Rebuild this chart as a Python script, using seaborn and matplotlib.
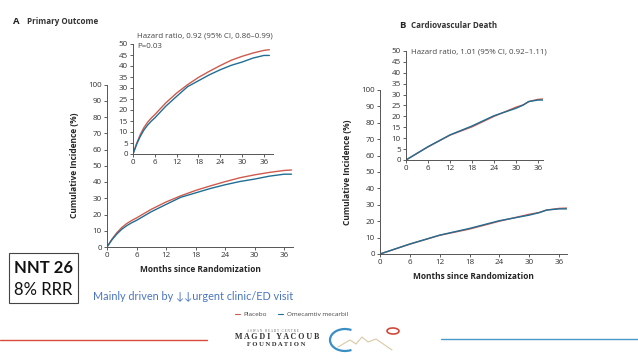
import numpy as np
import pandas as pd
import matplotlib.pyplot as plt
from matplotlib.patches import Rectangle, Arc, Ellipse
import seaborn as sns

# months since randomization
months_a = [0, 1, 2, 3, 4, 5, 6, 9, 12, 15, 18, 21, 24, 27, 30, 33, 36, 37.5]
placebo_a = [0, 4.8, 8.8, 12.0, 14.4, 16.3, 17.9, 23.2, 27.7, 31.5, 34.8, 37.6, 40.2, 42.6, 44.4, 45.9, 47.1, 47.4]
omecamtiv_a = [0, 4.4, 8.0, 10.9, 13.1, 14.9, 16.4, 21.7, 26.2, 30.6, 33.3, 36.0, 38.3, 40.3, 41.8, 43.6, 44.8, 44.8]

months_b = [0, 6, 12, 18, 24, 30, 32, 33.5, 36, 37.5]
placebo_b = [0, 6.0, 11.4, 15.2, 20.0, 24.2, 25.3, 26.8, 27.8, 28.0]
omecamtiv_b = [0, 6.1, 11.5, 15.6, 20.3, 23.7, 25.2, 26.8, 27.5, 27.5]

groups = ["Placebo", "Omecamtiv mecarbil"]
colors = {"Placebo": "#cf5a4c", "Omecamtiv mecarbil": "#1f6e94"}
month_ticks = [0, 6, 12, 18, 24, 30, 36]

W, H = 638, 359


def long_df(months, placebo, omecamtiv):
    return pd.concat([
        pd.DataFrame({"month": months, "inc": placebo, "group": groups[0]}),
        pd.DataFrame({"month": months, "inc": omecamtiv, "group": groups[1]}),
    ])


def px_axes(fig, x0, x1, y_bottom, y_top):
    return fig.add_axes([x0 / W, 1 - y_bottom / H, (x1 - x0) / W, (y_bottom - y_top) / H])


def style_axes(ax, xmax, ymax, ystep, fs=5.8):
    ax.set_xlim(0, xmax)
    ax.set_ylim(0, ymax)
    ax.set_xticks(month_ticks)
    ax.set_yticks(np.arange(0, ymax + 1, ystep))
    for s in ["top", "right"]:
        ax.spines[s].set_visible(False)
    for s in ["left", "bottom"]:
        ax.spines[s].set_color("#555555")
        ax.spines[s].set_linewidth(0.7)
    ax.tick_params(length=2.5, width=0.6, pad=1.2, labelsize=fs, colors="#444444", labelcolor="#333333")
    ax.patch.set_alpha(0)
    ax.set_xlabel("")
    ax.set_ylabel("")
    if ax.get_legend():
        ax.get_legend().remove()


sns.set_style("ticks")
plt.rcParams["font.family"] = ["Open Sans", "DejaVu Sans"]

fig = plt.figure(figsize=(W / 100, H / 100), dpi=100)
fig.patch.set_facecolor("white")

df_a = long_df(months_a, placebo_a, omecamtiv_a)
df_b = long_df(months_b, placebo_b, omecamtiv_b)

# Panel A main + inset
ax_a = px_axes(fig, 107, 293, 247, 84.5)
sns.lineplot(data=df_a, x="month", y="inc", hue="group", palette=colors, lw=1.0, ax=ax_a)
style_axes(ax_a, 37.8, 100, 10)
ax_a.set_xlabel("Months since Randomization", fontsize=6, fontweight="bold", labelpad=4)
ax_a.set_ylabel("Cumulative Incidence (%)", fontsize=6, fontweight="bold", labelpad=7)

ax_ai = px_axes(fig, 133, 273, 154, 44)
sns.lineplot(data=df_a, x="month", y="inc", hue="group", palette=colors, lw=1.0, ax=ax_ai)
style_axes(ax_ai, 38.5, 50, 5)

# Panel B main + inset
ax_b = px_axes(fig, 380, 567, 254, 90)
sns.lineplot(data=df_b, x="month", y="inc", hue="group", palette=colors, lw=1.0, ax=ax_b)
style_axes(ax_b, 37.6, 100, 10)
ax_b.set_xlabel("Months since Randomization", fontsize=6, fontweight="bold", labelpad=4)
ax_b.set_ylabel("Cumulative Incidence (%)", fontsize=6, fontweight="bold", labelpad=7)

ax_bi = px_axes(fig, 406, 543, 160, 51)
sns.lineplot(data=df_b, x="month", y="inc", hue="group", palette=colors, lw=1.0, ax=ax_bi)
style_axes(ax_bi, 37.4, 50, 5)


def ftext(x, y, s, **kw):
    fig.text(x / W, 1 - y / H, s, **kw)


def fline(xs, ys, **kw):
    fig.add_artist(plt.Line2D(np.array(xs) / W, 1 - np.array(ys) / H, transform=fig.transFigure, **kw))


# panel titles and hazard ratios
ftext(13, 22, "A", fontsize=6.8, fontweight="bold", va="center", color="#222222")
ftext(27, 22, "Primary Outcome", fontsize=5.8, fontweight="bold", va="center", color="#333333")
ftext(399, 25, "B", fontsize=6.8, fontweight="bold", va="center", color="#222222")
ftext(411, 25, "Cardiovascular Death", fontsize=5.8, fontweight="bold", va="center", color="#333333")
ftext(137, 36, "Hazard ratio, 0.92 (95% CI, 0.86\u20130.99)", fontsize=5.7, va="center", color="#444444")
ftext(137, 46, "P=0.03", fontsize=5.7, va="center", color="#444444")
ftext(411, 52, "Hazard ratio, 1.01 (95% CI, 0.92\u20131.11)", fontsize=5.7, va="center", color="#444444")

# NNT box
fig.add_artist(Rectangle((9 / W, 1 - 303 / H), 69 / W, 50 / H, transform=fig.transFigure,
                         fill=False, edgecolor="#444444", lw=0.8))
ftext(43.5, 268, "NNT 26", fontsize=12, fontweight="bold", ha="center", va="center",
      family=["Lato", "DejaVu Sans"], color="#111111")
ftext(43.5, 290, "8% RRR", fontsize=12, ha="center", va="center",
      family=["Lato", "DejaVu Sans"], color="#111111")

ftext(93, 297, "Mainly driven by \u2193\u2193urgent clinic/ED visit", fontsize=7.8, va="center",
      family=["Lato", "DejaVu Sans"], color="#4a76c0")

# legend row
fline([235, 240], [314, 314], color=colors["Placebo"], lw=0.8)
ftext(243, 314, "Placebo", fontsize=4.6, va="center", color="#444444")
fline([278, 283], [314, 314], color=colors["Omecamtiv mecarbil"], lw=0.8)
ftext(287, 314, "Omecamtiv mecarbil", fontsize=4.6, va="center", color="#444444")

# footer lines
fline([0, 207], [340, 340], color="#d94a3d", lw=1)
fline([441, 638], [339, 339], color="#4a9ac8", lw=1)

# foundation logo
ftext(273, 331, "A S W A N   H E A R T   C E N T R E", fontsize=2.3, ha="center", va="center",
      family=["Liberation Serif"], color="#666666")
ftext(277, 337, "M A G D I   Y A C O U B", fontsize=5.8, fontweight="bold", ha="center", va="center",
      family=["Liberation Serif"], color="#333333")
ftext(276, 344, "F O U N D A T I O N", fontsize=4.8, fontweight="bold", ha="center", va="center",
      family=["Liberation Serif"], color="#333333")
fig.add_artist(Arc((345 / W, 1 - 340 / H), 30 / W, 22 / H, theta1=70, theta2=290,
                   transform=fig.transFigure, color="#3a8fc4", lw=1.6))
fig.add_artist(Ellipse((393 / W, 1 - 331 / H), 12 / W, 6 / H, angle=-10,
                       transform=fig.transFigure, fill=False, color="#d04a3c", lw=1.2))
fline([338, 350, 356, 362, 368, 376, 392], [347, 340, 344, 337, 342, 339, 350], color="#d9c9a6", lw=0.8)

fig.savefig("out.png", dpi=100)
